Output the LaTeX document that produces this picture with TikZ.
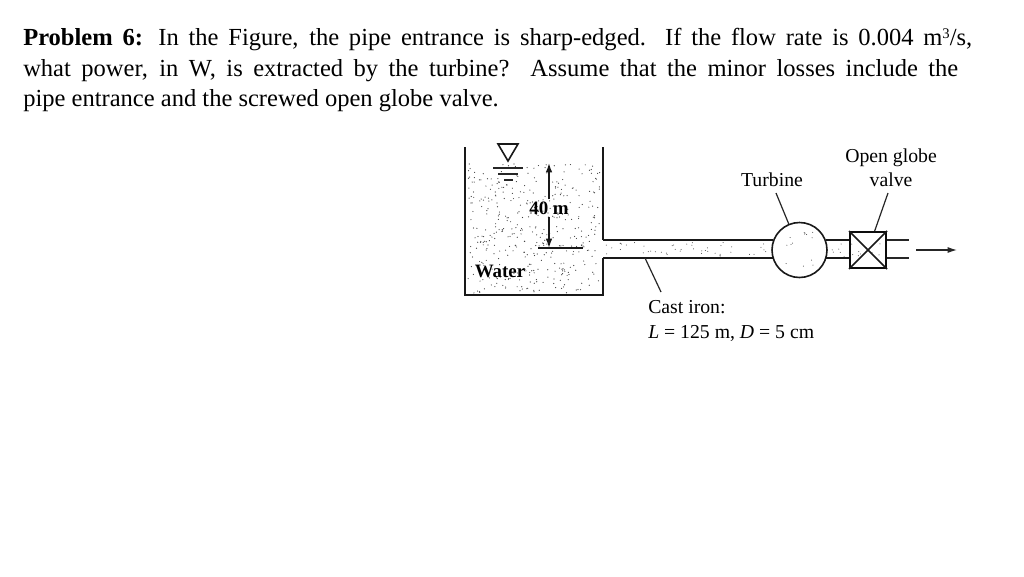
\documentclass[tikz,border=0pt]{standalone}
\usepackage{fontspec}
\setmainfont{Liberation Serif}
\usetikzlibrary{arrows.meta}
\tikzset{
    textline/.style={anchor=base west,inner sep=0pt,font=\fontsize{18.4}{22}\selectfont},
    figlabel/.style={inner sep=0pt,align=center,font=\fontsize{14.8}{18}\selectfont},
    tanklabel/.style={inner sep=0pt,font=\fontsize{14.2}{18}\bfseries},
    wall/.style={line width=1.2pt,black!90},
    thinline/.style={line width=0.9pt,black!85},
    speck/.style={fill=black!75}
}
\begin{document}
\begin{tikzpicture}[x=0.75pt,y=-0.75pt]
    \useasboundingbox (0,0) rectangle (1024,576);
    \fill[white] (0,0) rectangle (1024,576);
    % problem text
    \node[textline] (line1) at (23,45) {\makebox[711.75pt][s]{\textbf{Problem 6:} In the Figure, the pipe entrance is sharp-edged. If the flow rate is 0.004 m\raisebox{5pt}{\fontsize{11}{11}\selectfont 3}/s,}};
    \node[textline] (line2) at (23,76) {\makebox[701.25pt][s]{what power, in W, is extracted by the turbine?\ \ Assume that the minor losses include the}};
    \node[textline] (line3) at (23,106) {pipe entrance and the screwed open globe valve.};
    % specks of water
    \pgfmathsetseed{64}
    \foreach \i in {1,...,420} {
        \fill[speck] ({468+132*rnd},{164+129*rnd}) circle (0.6);
    }
    \foreach \i in {1,...,45} {
        \fill[speck] ({603+165*rnd},{242+14*rnd}) circle (0.5);
    }
    \foreach \i in {1,...,14} {
        \fill[speck] ({785+28*rnd},{232+36*rnd}) circle (0.5);
    }
    \foreach \i in {1,...,16} {
        \fill[speck] ({829+55*rnd},{243+14*rnd}) circle (0.5);
    }
    % tank
    \coordinate (tanktl) at (465,147);
    \coordinate (tankbl) at (465,295);
    \coordinate (tankbr) at (603,295);
    \coordinate (tanktr) at (603,147);
    \coordinate (pipetop) at (603,240);
    \coordinate (pipebot) at (603,258);
    \draw[wall] (tanktl) -- (tankbl) -- (tankbr) -- (pipebot);
    \draw[wall] (tanktr) -- (pipetop);
    % turbine and valve
    \node[circle,draw=black!90,line width=1.2pt,minimum size=41.25pt,inner sep=0pt] (turbine) at (799.5,250) {};
    \node[rectangle,draw=black!95,line width=1.5pt,minimum size=27pt,inner sep=0pt] (valve) at (868,250) {};
    \draw[wall] (valve.north west) -- (valve.south east);
    \draw[wall] (valve.north east) -- (valve.south west);
    % pipe
    \draw[wall] (pipetop) -- (turbine.159 |- pipetop);
    \draw[wall] (pipebot) -- (turbine.201 |- pipebot);
    \draw[wall] (turbine.21 |- pipetop) -- (valve.west |- pipetop);
    \draw[wall] (turbine.-21 |- pipebot) -- (valve.west |- pipebot);
    \coordinate (outtop) at (909,240);
    \coordinate (outbot) at (909,258);
    \draw[thinline] (valve.east |- outtop) -- (outtop);
    \draw[thinline] (valve.east |- outbot) -- (outbot);
    % flow arrow
    \coordinate (flowa) at (916,250);
    \coordinate (flowb) at (957,250);
    \draw[thinline,-{Latex[length=7pt,width=4.5pt]}] (flowa) -- (flowb);
    % free surface
    \coordinate (surfa) at (498,144);
    \coordinate (surfb) at (518,144);
    \coordinate (surfc) at (508,161);
    \draw[wall] (surfa) -- (surfb) -- (surfc) -- cycle;
    \draw[thinline] (493,168) -- (523,168);
    \draw[thinline] (498,174) -- (518,174);
    \draw[thinline] (504,180) -- (513,180);
    % head
    \node[tanklabel] (head) at (549,208) {40 m};
    \coordinate (headtop) at (549,163);
    \coordinate (headbot) at (549,248);
    \coordinate (datuma) at (538,248);
    \coordinate (datumb) at (583,248);
    \draw[wall,shorten <=1.5pt,-{Latex[length=7pt,width=5pt]}] (head.north) -- (headtop);
    \draw[wall,shorten <=1.5pt,-{Latex[length=7pt,width=5pt]}] (head.south) -- (headbot);
    \draw[wall] (datuma) -- (datumb);
    % labels
    \node[tanklabel] (water) at (500,271) {Water};
    \node[figlabel] (turbinelbl) at (772,180) {Turbine};
    \node[figlabel] (valvelbl) at (891,168) {Open globe\\valve};
    \node[figlabel,align=left,anchor=north west] (ironlbl) at (648,300) {Cast iron:\\[1pt]\textit{L} = 125 m, \textit{D} = 5 cm};
    % leaders
    \coordinate (ironfoot) at (645,258);
    \coordinate (ironhead) at (661,292);
    \coordinate (turbinetop) at (776,193);
    \coordinate (valvetop) at (888,193);
    \draw[thinline] (ironfoot) -- (ironhead);
    \draw[thinline] (turbinetop) -- (turbine);
    \draw[thinline] (valvetop) -- (valve);
\end{tikzpicture}
\end{document}
